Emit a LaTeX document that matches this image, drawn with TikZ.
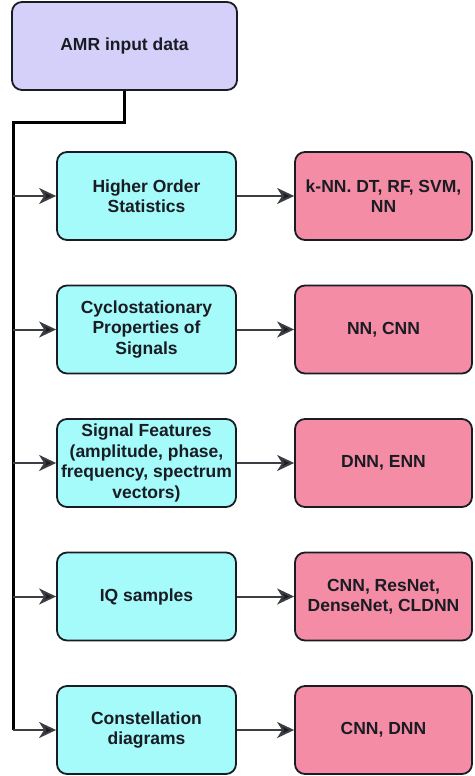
\documentclass[tikz,border=0pt]{standalone}
\usepackage{fontspec}
\setmainfont{Liberation Sans}
\usetikzlibrary{arrows.meta}
\definecolor{inputfill}{RGB}{212,208,250}
\definecolor{featfill}{RGB}{165,250,250}
\definecolor{clffill}{RGB}{245,140,165}
\definecolor{inkcol}{RGB}{25,28,35}
\tikzset{
  box/.style={draw=inkcol, line width=1.8pt, rounded corners=10pt, minimum height=88pt, align=center, inner sep=1pt, text=inkcol, font=\fontsize{17.5}{20.5}\selectfont\bfseries},
  link/.style={draw=inkcol!85, line width=2pt, -{Stealth[length=17pt, width=16pt, inset=5pt, fill=inkcol]}},
  trunk/.style={draw=black, line width=3pt}
}
\begin{document}
\begin{tikzpicture}[x=1pt, y=1pt]
\useasboundingbox (0,0) rectangle (474,-776);
\node[box, fill=inputfill, minimum width=225pt] (amr) at (124.5,-46) {AMR input data};
\foreach \feat/\clf [count=\i from 0] in {
{Higher Order\\Statistics}/{k-NN. DT, RF, SVM,\\NN},
{Cyclostationary\\Properties of\\Signals}/{NN, CNN},
{Signal Features\\(amplitude, phase,\\frequency, spectrum\\vectors)}/{DNN, ENN},
{IQ samples}/{CNN, ResNet,\\DenseNet, CLDNN},
{Constellation\\diagrams}/{CNN, DNN}}{
  \node[box, fill=featfill, minimum width=179pt] (feat\i) at (146.5,-196-133.5*\i) {\feat};
  \node[box, fill=clffill, minimum width=177pt] (clf\i) at (383.5,-196-133.5*\i) {\clf};
  \coordinate (tap\i) at (13,-196-133.5*\i);
  \draw[link] (feat\i) -- (clf\i);
};
\coordinate (split) at (13,-122);
\draw[trunk] (amr.south) |- (split) -- (tap4);
\foreach \i in {0,...,4}{\draw[link] (tap\i) -- (feat\i.west);};
\end{tikzpicture}
\end{document}
